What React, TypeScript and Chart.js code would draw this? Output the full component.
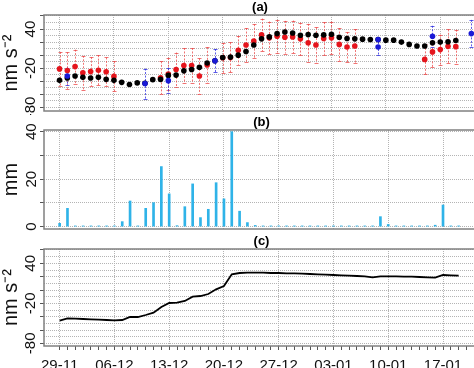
import React, { useEffect, useRef } from 'react';
import { Chart, registerables } from 'chart.js';
Chart.register(...registerables);

const FONT = "'Liberation Sans', Arial, Helvetica, sans-serif";
const GRID = '#b4b4b4';

// x axis: day index (0 = 29-11)
const xTickLabels = ['29-11', '06-12', '13-12', '20-12', '27-12', '03-01', '10-01', '17-01'];
const dayIndex = [0, 1, 2, 3, 4, 5, 6, 7, 8, 9, 10, 11, 12, 13, 14, 15, 16, 17, 18, 19, 20, 21, 22, 23, 24, 25,
  26, 27, 28, 29, 30, 31, 32, 33, 34, 35, 36, 37, 38, 39, 40, 41, 42, 43, 44, 45, 46, 47, 48, 49, 50, 51];
const minorTickDays = [0, 1, 2, 3, 4, 5, 6, 7, 8, 9, 10, 11, 12, 13, 14, 15, 16, 17, 18, 19, 20, 21, 22, 23, 24, 25,
  26, 27, 28, 29, 30, 31, 32, 33, 34, 35, 36, 37, 38, 39, 40, 41, 42, 43, 44, 45, 46, 47, 48, 49, 50, 51, 52, 53];

// panel (a)
const blackVals = [-38.6, -35, -32, -34, -35, -34, -37, -38.6, -41.6, -45,
  -42.5, -43, -37.5, -37, -31, -30.5, -24, -22, -18.5, -12,
  -8.5, -3.5, -3, 0, 5.5, 15.5, 25, 28, 33, 35.5,
  34, 30.5, 31.5, 30.5, 31, 32, 27.5, 25.5, 25, 24.5,
  24, 24, 23, 23, 20, 16.5, 14, 14, 19, 20,
  20.5, 22.5];
const redDays = [0, 1, 2, 3, 4, 5, 6, 7, 13, 14, 15, 16, 17, 18, 19, 21, 22, 23, 24, 25, 26, 27, 28, 29, 30, 31, 32,
  33, 34, 35, 36, 37, 38, 47, 48, 49, 50, 51];
const redVals = [-21, -23.5, -17.5, -27, -25, -23, -25.5, -32.5,
  -34.5, -29, -22, -16, -16, -32, -15,
  -4, -3.5, 7.5, 15.5, 21.5, 31, 26.5, 29, 27.5, 28, 25, 19, 15.5, 25.5, 26.5, 16.5, 12.5, 14,
  -6.5, 5, 8.5, 13.5, 13];
const redErr = [26, 28, 26, 26, 22, 23, 22, 23,
  25, 25, 26, 27, 27, 27, 27,
  23, 23, 22, 26, 26, 25, 25, 25, 25, 25, 25, 29, 27, 25, 25, 25, 23, 26,
  23, 23, 23, 26, 26];
const blueDays = [1, 11, 14, 20, 41, 41, 48, 53];
const blueVals = [-32, -43.5, -39, -8.5, 24, 12.5, 29, 33];
const blueErr = [13, 23, 19, 18, 0, 13, 16, 21];

// panel (b)
const rainVals = [1.4, 7.7, 0.3, 0.3, 0.3, 0.3, 0.3, 0.3, 2.1, 10.8,
  0.3, 7.7, 10.1, 25.3, 13.8, 0.4, 8.4, 18, 3.8, 7.3,
  18.5, 11.7, 40, 6.5, 1.7, 0.5, 0.3, 0.3, 0.3, 0.3,
  0.3, 0.3, 0.3, 0.3, 0.3, 0.3, 0.3, 0.3, 0.3, 0.3,
  0.3, 4.2, 0.9, 0.3, 0.3, 0.3, 0.3, 0.3, 0.6, 9.1,
  0.3, 0.3];

// panel (c)
const cumVals = [-46, -42.5, -43, -43.5, -44, -44.5, -45, -45.5, -45, -40.5,
  -40.5, -37.5, -34, -25.5, -19.5, -19, -16.5, -10, -9, -6,
  1, 6, 23.5, 25.5, 26, 26, 26, 25.5, 25.5, 25,
  25, 24.5, 24, 23.5, 23, 22.5, 22, 21.5, 21, 20.5,
  19, 20.5, 20.5, 20.5, 20, 20, 19.5, 19, 18.5, 22.5,
  22, 21.5];

const gravTicks = [-80, -70, -60, -50, -40, -30, -20, -10, 0, 10, 20, 30, 40, 50, 60];
const gravLabels = [-80, -20, 40];
const gravMarks = [-80, -60, -40, -20, 0, 20, 40, 60];
const rainTicks = [0, 10, 20, 30, 40];
const rainLabels = [0, 20, 40];

const framePlugin = {
  id: 'frame',
  afterDraw(chart: any) {
    const { ctx, chartArea: a } = chart;
    ctx.save();
    ctx.strokeStyle = '#808080';
    ctx.lineWidth = 1.5;
    ctx.strokeRect(a.left, a.top, a.right - a.left, a.bottom - a.top);
    ctx.restore();
  },
};

const errorBarPlugin = {
  id: 'errbars',
  beforeDatasetsDraw(chart: any) {
    const { ctx, chartArea: a } = chart;
    const xs = chart.scales.x;
    const ys = chart.scales.y;
    ctx.save();
    ctx.beginPath();
    ctx.rect(a.left, a.top, a.right - a.left, a.bottom - a.top);
    ctx.clip();
    const dsets = chart.data.datasets.slice().reverse();
    dsets.forEach((ds: any) => {
      if (!ds.errors) return;
      ctx.strokeStyle = ds.errorColor;
      ctx.lineWidth = 1;
      ds.data.forEach((p: any, i: number) => {
        const e = ds.errors[i];
        if (!e) return;
        const px = Math.round(xs.getPixelForValue(p.x)) + 0.5;
        const top = ys.getPixelForValue(p.y + e);
        const bot = ys.getPixelForValue(p.y - e);
        ctx.setLineDash([2, 1.5]);
        ctx.beginPath();
        ctx.moveTo(px, top);
        ctx.lineTo(px, bot);
        ctx.stroke();
        ctx.setLineDash([]);
        ctx.beginPath();
        ctx.moveTo(px - 2, Math.round(top) + 0.5);
        ctx.lineTo(px + 2, Math.round(top) + 0.5);
        ctx.moveTo(px - 2, Math.round(bot) + 0.5);
        ctx.lineTo(px + 2, Math.round(bot) + 0.5);
        ctx.stroke();
      });
    });
    ctx.restore();
  },
};

function xScale(showLabels: boolean): any {
  return {
    type: 'linear',
    min: -2,
    max: 53.6,
    offset: false,
    afterBuildTicks: (s: any) => {
      s.ticks = minorTickDays.map((v) => ({ value: v }));
    },
    afterFit: (s: any) => {
      s.height = showLabels ? 29 : 0;
      s.paddingLeft = 0;
      s.paddingRight = 0;
    },
    border: { display: false, dash: [1, 1] },
    grid: {
      offset: false,
      color: (c: any) => (c.tick && c.tick.value % 7 === 0 ? GRID : 'rgba(0,0,0,0)'),
      lineWidth: 1,
      drawTicks: showLabels,
      tickLength: 4,
      tickColor: '#555',
      tickWidth: 1,
    },
    ticks: {
      display: showLabels,
      autoSkip: false,
      maxRotation: 0,
      minRotation: 0,
      padding: 7,
      color: '#111',
      font: { family: FONT, size: 15 },
      callback: (v: any) => {
        const i = v / 7;
        return Number.isInteger(i) && i >= 0 && i < xTickLabels.length ? xTickLabels[i] : '';
      },
    },
  };
}

function yScale(min: number, max: number, ticks: number[], labels: number[], marks: number[], title: string, pad: number): any {
  return {
    type: 'linear',
    min,
    max,
    afterBuildTicks: (s: any) => {
      s.ticks = ticks.map((v) => ({ value: v }));
    },
    afterFit: (s: any) => {
      s.width = 44;
      s.paddingTop = 0;
      s.paddingBottom = 0;
    },
    border: { display: false, dash: [1, 1] },
    grid: {
      color: GRID,
      lineWidth: 1,
      drawTicks: true,
      tickLength: 4,
      tickWidth: 1,
      tickColor: (c: any) => (c.tick && marks.includes(c.tick.value) ? '#555' : 'rgba(0,0,0,0)'),
    },
    ticks: {
      autoSkip: false,
      minRotation: 90,
      maxRotation: 90,
      crossAlign: 'center',
      padding: pad,
      color: '#111',
      font: { family: FONT, size: 15 },
      callback: (v: any) => (labels.includes(v) ? String(v) : ''),
    },
    title: {
      display: true,
      text: title,
      color: '#111',
      font: { family: FONT, size: 20, lineHeight: 1 },
      padding: { top: 1, bottom: 0 },
    },
  };
}

function titleOpts(text: string): any {
  return {
    display: true,
    text,
    fullSize: false,
    color: '#000',
    font: { family: FONT, size: 13, weight: 'bold', lineHeight: 1 },
    padding: { top: 1, bottom: 1 },
  };
}

export default function App() {
  const aRef = useRef<HTMLCanvasElement>(null);
  const bRef = useRef<HTMLCanvasElement>(null);
  const cRef = useRef<HTMLCanvasElement>(null);

  useEffect(() => {
    document.body.style.margin = '0';
    const common = { responsive: false, animation: false, devicePixelRatio: 1, events: [] as any[] };

    const chartA = new Chart(aRef.current as HTMLCanvasElement, {
      type: 'scatter',
      data: {
        datasets: [
          {
            label: 'blue',
            data: blueDays.map((d, i) => ({ x: d, y: blueVals[i] })),
            backgroundColor: '#1a1ad6',
            borderColor: '#1a1ad6',
            pointRadius: 2.8,
            pointBorderWidth: 0,
            errors: blueErr,
            errorColor: 'rgba(50,50,225,0.8)',
          } as any,
          {
            label: 'black',
            data: dayIndex.map((d, i) => ({ x: d, y: blackVals[i] })),
            backgroundColor: '#000',
            borderColor: '#000',
            pointRadius: 2.8,
            pointBorderWidth: 0,
          },
          {
            label: 'red',
            data: redDays.map((d, i) => ({ x: d, y: redVals[i] })),
            backgroundColor: '#e5141c',
            borderColor: '#e5141c',
            pointRadius: 2.8,
            pointBorderWidth: 0,
            errors: redErr,
            errorColor: 'rgba(235,70,70,0.75)',
          } as any,
        ],
      },
      options: {
        ...common,
        layout: { padding: { top: 0, bottom: 2, left: 0, right: 1 } },
        plugins: { legend: { display: false }, tooltip: { enabled: false }, title: titleOpts('(a)') },
        scales: {
          x: xScale(false),
          y: yScale(-85.5, 61.5, gravTicks, gravLabels, gravMarks, 'nm s\u207B\u00B2', -2),
        },
      } as any,
      plugins: [errorBarPlugin, framePlugin],
    });

    const chartB = new Chart(bRef.current as HTMLCanvasElement, {
      type: 'bar',
      data: {
        datasets: [
          {
            label: 'rain',
            data: dayIndex.map((d, i) => ({ x: d, y: rainVals[i] })),
            backgroundColor: '#2fb3e8',
            borderWidth: 0,
            barThickness: 2,
          } as any,
        ],
      },
      options: {
        ...common,
        layout: { padding: { top: 0, bottom: 5, left: 0, right: 1 } },
        plugins: { legend: { display: false }, tooltip: { enabled: false }, title: titleOpts('(b)') },
        scales: {
          x: xScale(false),
          y: yScale(-1, 40.7, rainTicks, rainLabels, rainTicks, 'mm', 0),
        },
      } as any,
      plugins: [framePlugin],
    });

    const chartC = new Chart(cRef.current as HTMLCanvasElement, {
      type: 'line',
      data: {
        datasets: [
          {
            label: 'cum',
            data: dayIndex.map((d, i) => ({ x: d, y: cumVals[i] })),
            borderColor: '#000',
            borderWidth: 1.8,
            pointRadius: 0,
            tension: 0,
            fill: false,
          },
        ],
      },
      options: {
        ...common,
        layout: { padding: { top: 0, bottom: 0, left: 0, right: 1 } },
        plugins: { legend: { display: false }, tooltip: { enabled: false }, title: titleOpts('(c)') },
        scales: {
          x: xScale(true),
          y: yScale(-84, 61.5, gravTicks, gravLabels, gravMarks, 'nm s\u207B\u00B2', -2),
        },
      } as any,
      plugins: [framePlugin],
    });

    return () => {
      chartA.destroy();
      chartB.destroy();
      chartC.destroy();
    };
  }, []);

  const cv = (top: number, h: number): React.CSSProperties => ({
    position: 'absolute', left: 0, top, width: 480, height: h, display: 'block',
  });

  return (
    <div style={{ position: 'relative', width: 474, height: 368, overflow: 'hidden', background: '#fff' }}>
      <canvas ref={aRef} width={480} height={115} style={cv(0, 115)} />
      <canvas ref={bRef} width={480} height={119} style={cv(115, 119)} />
      <canvas ref={cRef} width={480} height={141} style={cv(234, 141)} />
    </div>
  );
}
